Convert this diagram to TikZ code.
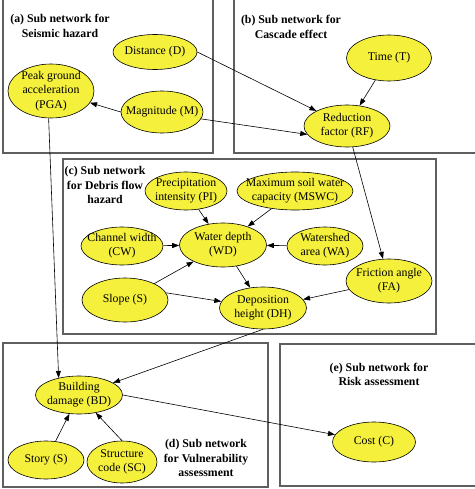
\documentclass[tikz,border=0pt]{standalone}
\usepackage{fontspec}
\setmainfont{Liberation Serif}
\usetikzlibrary{arrows.meta,shapes.geometric}
\definecolor{bnyellow}{RGB}{245,240,60}
\definecolor{boxgray}{RGB}{95,95,95}
\begin{document}
\begin{tikzpicture}[x=1pt,y=-1pt,
  font=\rmfamily\fontsize{11.8}{14.2}\selectfont,
  bn/.style={ellipse,draw=black,line width=0.6pt,fill=bnyellow,inner sep=0pt},
  lab/.style={align=center,inner sep=0pt,font=\rmfamily\fontsize{11.8}{14.2}\selectfont},
  subbox/.style={draw=boxgray,line width=1.2pt},
  ttl/.style={align=center,font=\rmfamily\fontsize{11.8}{14.2}\selectfont\bfseries,inner sep=0pt},
  link/.style={-{Triangle[length=7pt,width=5pt]},line width=0.6pt,black}]
\useasboundingbox (0,0) rectangle (474,489);
% sub-network frames
\draw[subbox] (3,-1) rectangle (213,153);
\draw[subbox] (234,-1) rectangle (480,153);
\draw[subbox] (63,159) rectangle (436,334);
\draw[subbox] (3,343) rectangle (268,487);
\draw[subbox] (280,344) rectangle (480,486);
% titles
\node[ttl] (ta) at (60,26) {(a) Sub network for\\Seismic hazard};
\node[ttl] (tb) at (291,27) {(b) Sub network for\\Cascade effect};
\node[ttl] (tc) at (105,185) {(c) Sub network\\for Debris flow\\hazard};
\node[ttl] (td) at (206,458) {(d) Sub network\\for Vulnerability\\assessment};
\node[ttl] (te) at (379,374) {(e) Sub network for\\Risk assessment};
% nodes
\node[bn,minimum width=84pt,minimum height=35pt,label={[lab]center:Distance (D)}] (D) at (155,52) {};
\node[bn,minimum width=86pt,minimum height=54pt,label={[lab]center:Peak ground\\acceleration\\(PGA)}] (PGA) at (51,91) {};
\node[bn,minimum width=82pt,minimum height=42pt,label={[lab]center:Magnitude (M)}] (M) at (162,112) {};
\node[bn,minimum width=85pt,minimum height=46pt,label={[lab]center:Time (T)}] (T) at (389,58) {};
\node[bn,minimum width=86pt,minimum height=42pt,label={[lab]center:Reduction\\factor (RF)}] (RF) at (347,126) {};
\node[bn,minimum width=82pt,minimum height=38pt,label={[lab]center:Precipitation\\intensity (PI)}] (PI) at (186,191) {};
\node[bn,minimum width=116pt,minimum height=38pt,label={[lab]center:Maximum soil water\\capacity (MSWC)}] (MSWC) at (295,191) {};
\node[bn,minimum width=82pt,minimum height=38pt,label={[lab]center:Channel width\\(CW)}] (CW) at (122,246) {};
\node[bn,minimum width=87pt,minimum height=44pt,label={[lab]center:Water depth\\(WD)}] (WD) at (223,245) {};
\node[bn,minimum width=76pt,minimum height=38pt,label={[lab]center:Watershed\\area (WA)}] (WA) at (325,246) {};
\node[bn,minimum width=86pt,minimum height=44pt,label={[lab]center:Friction angle\\(FA)}] (FA) at (389,281) {};
\node[bn,minimum width=86pt,minimum height=44pt,label={[lab]center:Slope (S)}] (S) at (125,300) {};
\node[bn,minimum width=87pt,minimum height=42pt,label={[lab]center:Deposition\\height (DH)}] (DH) at (263,308) {};
\node[bn,minimum width=87pt,minimum height=38pt,label={[lab]center:Building\\damage (BD)}] (BD) at (79,395) {};
\node[bn,minimum width=76pt,minimum height=38pt,label={[lab]center:Story (S)}] (ST) at (46,460) {};
\node[bn,minimum width=70pt,minimum height=42pt,label={[lab]center:Structure\\code (SC)}] (SC) at (122,462) {};
\node[bn,minimum width=83pt,minimum height=40pt,label={[lab]center:Cost (C)}] (C) at (374,442) {};
% links
\draw[link] (M.west) -- (PGA);
\draw[link] (D.east) -- (RF);
\draw[link] (M.-10) -- (RF.192);
\draw[link] (T) -- (RF);
\draw[link] (RF) -- (FA);
\draw[link] (PI) -- (WD);
\draw[link] (MSWC) -- (WD);
\draw[link] (CW) -- (WD);
\draw[link] (WA) -- (WD);
\draw[link] (S) -- (WD);
\draw[link] (S.10) -- (DH);
\draw[link] (WD) -- (DH);
\draw[link] (FA) -- (DH);
\draw[link] (PGA.265) -- (BD.140);
\draw[link] (DH.south) -- (BD);
\draw[link] (ST) -- (BD);
\draw[link] (SC.north) -- (BD);
\draw[link] (BD.east) -- (C);
\end{tikzpicture}
\end{document}
